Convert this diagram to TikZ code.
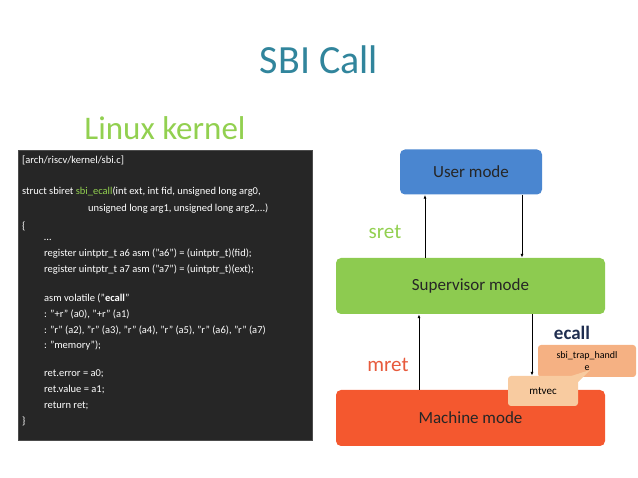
\documentclass[tikz,border=0pt]{standalone}
\usepackage{fontspec}
\setmainfont{Carlito}
\usetikzlibrary{arrows.meta,positioning}
\definecolor{titleteal}{RGB}{49,133,156}
\definecolor{kgreen}{RGB}{146,208,80}
\definecolor{codebg}{RGB}{38,38,38}
\definecolor{userblue}{RGB}{74,134,208}
\definecolor{supgreen}{RGB}{141,203,80}
\definecolor{machred}{RGB}{244,88,47}
\definecolor{mretred}{RGB}{231,90,60}
\definecolor{ecallnavy}{RGB}{31,46,80}
\definecolor{trapfill}{RGB}{245,177,131}
\definecolor{mtvecfill}{RGB}{248,203,160}
\begin{document}
\begin{tikzpicture}[x=1pt,y=-1pt]
  \tikzset{mode/.style = {rounded corners=5pt,draw=none,font=\fontsize{17}{19}\selectfont,text=black!85}}
  \tikzset{code/.style = {anchor=west,text=white,font=\fontsize{10.5}{12}\selectfont,inner sep=0pt}}
  \tikzset{edge/.style = {-{Latex[length=4pt,width=3pt]},thick}}
  \useasboundingbox (0,0) rectangle (638,478);
  \node[text=titleteal,font=\fontsize{40}{44}\selectfont] (title) at (319,60) {SBI Call};
  \node[text=kgreen,font=\fontsize{33}{36}\selectfont] (linux) at (165,128) {Linux kernel};
  % code box
  \node[draw=black!70,fill=codebg,minimum width=294,minimum height=290,anchor=north west,inner sep=0pt] (box) at (18,150) {};
  \node[code] (l1) at (22,160) {[arch/riscv/kernel/sbi.c]};
  \node[code] (l2) at (22,192) {struct sbiret \textcolor{kgreen}{sbi\_ecall}(int ext, int fid, unsigned long arg0,};
  \node[code] (l3) at (88,209) {unsigned long arg1, unsigned long arg2,...)};
  \node[code] (l4) at (22,226) {\{};
  \node[code] (l5) at (44,240) {\dots};
  \node[code] (l6) at (44,254) {register uintptr\_t a6 asm ("a6") = (uintptr\_t)(fid);};
  \node[code] (l7) at (44,270) {register uintptr\_t a7 asm ("a7") = (uintptr\_t)(ext);};
  \node[code] (l8) at (44,298) {asm volatile ("\textbf{ecall}"};
  \node[code] (l9) at (44,314) {: "+r" (a0), "+r" (a1)};
  \node[code] (l10) at (44,330) {: "r" (a2), "r" (a3), "r" (a4), "r" (a5), "r" (a6), "r" (a7)};
  \node[code] (l11) at (44,346) {: "memory");};
  \node[code] (l12) at (44,374) {ret.error = a0;};
  \node[code] (l13) at (44,390) {ret.value = a1;};
  \node[code] (l14) at (44,406) {return ret;};
  \node[code] (l15) at (22,421) {\}};
  % modes
  \node[mode,fill=userblue,minimum width=142,minimum height=45] (U) at (471,172) {User mode};
  \node[mode,fill=supgreen,minimum width=269,minimum height=56] (S) at (470.5,286) {Supervisor mode};
  \node[mode,fill=machred,minimum width=269,minimum height=56] (M) at (470.5,418) {Machine mode};
  \node[text=kgreen,font=\fontsize{21}{23}\selectfont] (sret) at (385,232) {sret};
  \node[text=mretred,font=\fontsize{21}{23}\selectfont] (mret) at (388,365) {mret};
  \node[text=ecallnavy,font=\bfseries\fontsize{19}{21}\selectfont] (ecall) at (572,333) {ecall};
  % callouts
  \node[fill=trapfill,rounded corners=3pt,minimum width=98,minimum height=32,text width=90,align=center,font=\fontsize{10}{12}\selectfont,inner sep=2pt] (trap) at (587,361) {sbi\_trap\_handl\\e};
  \fill[mtvecfill] (565,378) -- (590,370) -- (572,388) -- cycle;
  \node[fill=mtvecfill,rounded corners=3pt,minimum width=70,minimum height=30,font=\fontsize{11}{13}\selectfont] (mtvec) at (543,391) {mtvec};
  \coordinate (su) at ([xshift=-46]U.south);
  \coordinate (us) at ([xshift=51]U.south);
  \draw[edge] (su |- S.north) -- (su);
  \draw[edge] (us) -- (us |- S.north);
  \coordinate (ms) at ([xshift=-51.5]S.south);
  \coordinate (sm) at ([xshift=61.5]S.south);
  \draw[edge] (ms |- M.north) -- (ms);
  \draw[edge] (sm) -- (sm |- mtvec.north);
\end{tikzpicture}
\end{document}
